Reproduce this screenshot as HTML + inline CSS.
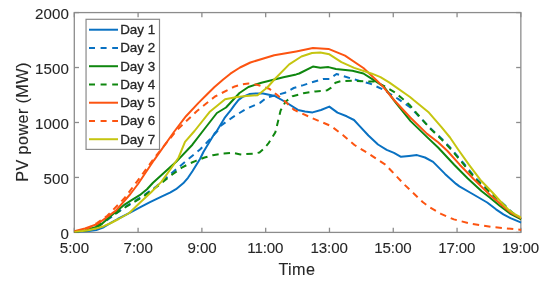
<!DOCTYPE html>
<html><head><meta charset="utf-8"><title>PV power</title>
<style>
html,body{margin:0;padding:0;background:#fff;}
svg{display:block;}
text{font-family:"Liberation Sans",Arial,Helvetica,sans-serif;fill:#262626;stroke:#262626;stroke-width:0.3px;}
.tk{font-size:15.1px;letter-spacing:0.16px;stroke-width:0.1px;}
.lb{font-size:16.2px;letter-spacing:0.4px;stroke-width:0.1px;}
.lg{font-size:13.4px;}
</style></head><body>
<svg width="550" height="289" viewBox="0 0 550 289">
<rect x="0" y="0" width="550" height="289" fill="#ffffff"/>

<defs><clipPath id="cp"><rect x="74.3" y="12.58" width="447.05" height="219.92"/></clipPath></defs>
<g stroke="#8c8c8c" stroke-width="1.3" fill="none">
<rect x="74.3" y="12.58" width="446.55" height="219.82"/>
<line x1="74.30" y1="232.4" x2="74.30" y2="227.7"/>
<line x1="74.30" y1="12.58" x2="74.30" y2="17.28"/>
<line x1="138.09" y1="232.4" x2="138.09" y2="227.7"/>
<line x1="138.09" y1="12.58" x2="138.09" y2="17.28"/>
<line x1="201.89" y1="232.4" x2="201.89" y2="227.7"/>
<line x1="201.89" y1="12.58" x2="201.89" y2="17.28"/>
<line x1="265.68" y1="232.4" x2="265.68" y2="227.7"/>
<line x1="265.68" y1="12.58" x2="265.68" y2="17.28"/>
<line x1="329.47" y1="232.4" x2="329.47" y2="227.7"/>
<line x1="329.47" y1="12.58" x2="329.47" y2="17.28"/>
<line x1="393.26" y1="232.4" x2="393.26" y2="227.7"/>
<line x1="393.26" y1="12.58" x2="393.26" y2="17.28"/>
<line x1="457.06" y1="232.4" x2="457.06" y2="227.7"/>
<line x1="457.06" y1="12.58" x2="457.06" y2="17.28"/>
<line x1="520.85" y1="232.4" x2="520.85" y2="227.7"/>
<line x1="520.85" y1="12.58" x2="520.85" y2="17.28"/>
<line x1="74.3" y1="232.40" x2="79" y2="232.40"/>
<line x1="520.85" y1="232.40" x2="516.15" y2="232.40"/>
<line x1="74.3" y1="177.44" x2="79" y2="177.44"/>
<line x1="520.85" y1="177.44" x2="516.15" y2="177.44"/>
<line x1="74.3" y1="122.49" x2="79" y2="122.49"/>
<line x1="520.85" y1="122.49" x2="516.15" y2="122.49"/>
<line x1="74.3" y1="67.53" x2="79" y2="67.53"/>
<line x1="520.85" y1="67.53" x2="516.15" y2="67.53"/>
<line x1="74.3" y1="12.58" x2="79" y2="12.58"/>
<line x1="520.85" y1="12.58" x2="516.15" y2="12.58"/>
</g>
<g clip-path="url(#cp)" fill="none" stroke-width="2" stroke-linejoin="round">
<polyline points="74.3,232 85,231.4 96.3,230 103.7,227.2 111.2,222.6 117.7,219 130.6,212.3 140.4,207.1 150,202.2 162.5,196.2 170,192.6 176,189.2 183.2,183.3 188,177.8 192.4,171.2 200,159 203.4,152 214.7,133.3 216.5,131.5 224.6,117.9 231,109.8 234.6,104.9 238.6,99.9 242.2,97.1 249.3,94.1 256,93.4 263,93.5 275,96.1 285.5,102 297.9,109.9 305,111.5 312.6,112.4 321,110 329.3,106.6 337.5,112.6 346.7,116.3 354,120 359.2,125.7 368.4,135.5 378,144.5 386.7,149.8 394,152.8 401,156.8 409,156 417,155.1 425,157.5 433.1,161.9 445,173.9 456.1,183.9 459.4,186.4 472.6,194 487.2,202.5 496,209.3 503.4,214.3 510.5,218.1 521.3,222.6" stroke="#0971C2"/>
<polyline points="74.3,232 90,229.5 100,225 110,218 125,207 143,196 156.2,186.6 163,180.5 185,161.9 200,149.5 203.4,146 210.7,138.5 218.3,130 220.5,125.9 233.2,116.9 246.2,108.9 260,102.9 266.7,97.6 285,92.8 293.7,88 303.4,85.1 311.8,82.3 323,79 329.4,79 336.5,74 345.5,76.8 359.7,80.9 370.7,83.8 383,89.5 398.1,98.9 410,107.1 416.1,113.4 430.7,128.5 441.7,138.7 450,147.3 463.4,163 476.2,178.6 490,191.7 505,205.6 512,212.4 521.3,218.8" stroke="#0971C2" stroke-dasharray="6.4 5.02" stroke-dashoffset="10.7"/>
<polyline points="74.3,232 85,230.5 99.4,225.9 112,215 125,204.3 132.4,199.6 139.7,195.2 147,189.3 153,182.8 175.9,162.1 192.4,144.7 202.5,131.5 216.9,113 226,107.5 239.5,93 248.4,87 261.4,82.7 283.4,77.2 296.2,74.4 299.2,73.5 312.9,66.6 320.3,67.7 328.5,67.1 335.9,69 352.4,70.8 363.4,73.5 370.7,78.1 383.6,86.4 395.9,102.8 410.6,121.1 427.1,137.1 438.1,147.5 454.2,164.7 467.8,178.5 481.7,191.3 490,197.7 499.7,205.7 510,213.5 521.3,219.4" stroke="#0F870F"/>
<polyline points="74.3,232 88,230 97,226 106.7,219.4 125,207.5 143.4,196.5 156.2,187.3 165.3,179.9 171.9,174.8 182.3,167.3 189.7,163.5 196.4,160.6 204.6,157.5 212.8,155.2 223.9,153.6 233,152.8 240.4,154.4 253.2,153.8 259.5,152.5 263.7,148.8 268.2,143.7 275.3,132.4 278.3,120.2 280.6,110.5 285.5,101.8 292.5,96.2 303.4,93.3 315.5,91.4 321.7,90.9 327,90.3 331.2,87.7 335.5,82.7 340.5,81.3 352,80.8 374.3,81.6 383.8,85.8 394.4,92.2 402,98.3 410,105.3 416.1,112.6 430.7,129.1 441.7,139.6 450,148.3 463.4,164.2 476.2,179.8 490,192.5 505,205.8 512,212.7 521.3,219" stroke="#0F870F" stroke-dasharray="6.41 5.03" stroke-dashoffset="0.4"/>
<polyline points="74.3,231.3 85,228.5 97.5,224 115.9,210.6 130.4,194 138,184 153.9,160.3 174.3,131.5 186,116.2 198.5,102.9 206.4,95 214.5,87 223.2,79.5 230.4,73.7 240,67.5 250.4,62.5 274.2,55.2 296.2,51.4 301,50.5 312.9,48 328.5,48.9 345,55.7 363.4,68 376.2,80 383.6,87.3 394,100 410.3,117.5 427.1,133.9 438.1,142.2 447.5,151 459.7,164.7 473.3,178.8 490.3,195.3 503.4,206.5 511,212.8 521.3,218.4" stroke="#FC5411"/>
<polyline points="74.3,232 88,228.5 97,223 107.3,215.8 124.4,198.3 136.8,181.8 155,157 176.5,130.5 196.7,111.2 215,96.5 233.9,86.8 241,84.6 248.5,83.5 257.1,84.8 269.3,88.8 277,94.9 284.8,101.2 294.2,109.9 312.2,118.1 331,126 342.8,135 354.5,145 368.5,153.5 385,164.4 392,171.5 404.7,184.9 423,202.3 430,207.5 441,213.9 453.9,219.4 472.2,224 490.6,226.8 521.3,229.9" stroke="#FC5411" stroke-dasharray="6.42 5.04" stroke-dashoffset="11.4"/>
<polyline points="74.3,232 88.3,230.2 96,228.6 103.7,226.2 111,223 118.6,219 129.3,213 140.4,202.3 151.4,192 161.5,181.6 173.5,165 178.6,157.5 185,141.9 194.5,131 209.5,112.1 225.1,99.3 237,96.9 246.5,96.1 257.6,95.2 267.3,87.5 274.8,79 289.2,64.4 301.4,56.5 312,53 320.3,52.4 329.4,54.3 341.4,62.2 354.2,67.9 372,73.7 380.5,77.2 389.5,82.6 410,97 414.2,100.6 428.9,112.6 441.7,127.4 450,137.5 458.5,150 468.9,164.7 480.2,179.7 492,192 503.3,204.5 508.1,209.3 514.2,213.8 521.3,217.7" stroke="#C5C510"/>
</g>
<text class="tk" style="letter-spacing:-0.04px" x="74.40" y="253.35" text-anchor="middle">5:00</text>
<text class="tk" style="letter-spacing:-0.04px" x="138.19" y="253.35" text-anchor="middle">7:00</text>
<text class="tk" style="letter-spacing:-0.04px" x="201.99" y="253.35" text-anchor="middle">9:00</text>
<text class="tk" style="letter-spacing:-0.14px" x="265.33" y="253.35" text-anchor="middle">11:00</text>
<text class="tk" style="letter-spacing:-0.14px" x="329.12" y="253.35" text-anchor="middle">13:00</text>
<text class="tk" style="letter-spacing:-0.14px" x="392.91" y="253.35" text-anchor="middle">15:00</text>
<text class="tk" style="letter-spacing:-0.14px" x="456.71" y="253.35" text-anchor="middle">17:00</text>
<text class="tk" style="letter-spacing:-0.14px" x="520.50" y="253.35" text-anchor="middle">19:00</text>
<text class="tk" x="69.1" y="238.50" text-anchor="end">0</text>
<text class="tk" x="69.1" y="183.54" text-anchor="end">500</text>
<text class="tk" x="69.1" y="128.59" text-anchor="end">1000</text>
<text class="tk" x="69.1" y="73.63" text-anchor="end">1500</text>
<text class="tk" x="69.1" y="18.68" text-anchor="end">2000</text>
<text class="lb" x="296.9" y="274.8" text-anchor="middle">Time</text>
<text class="lb" transform="translate(27.6,122.0) rotate(-90)" text-anchor="middle">PV power (MW)</text>
<rect x="86.05" y="19.3" width="73.45" height="130.1" fill="#ffffff" stroke="#8a8a8a" stroke-width="1.2"/>
<line x1="89" y1="29.72" x2="118" y2="29.72" stroke="#0971C2" stroke-width="2"/>
<text class="lg" x="120.2" y="34.05">Day 1</text>
<line x1="89" y1="47.97" x2="118" y2="47.97" stroke="#0971C2" stroke-width="2" stroke-dasharray="6 5.6"/>
<text class="lg" x="120.2" y="52.30">Day 2</text>
<line x1="89" y1="66.22" x2="118" y2="66.22" stroke="#0F870F" stroke-width="2"/>
<text class="lg" x="120.2" y="70.55">Day 3</text>
<line x1="89" y1="84.47" x2="118" y2="84.47" stroke="#0F870F" stroke-width="2" stroke-dasharray="6 5.6"/>
<text class="lg" x="120.2" y="88.80">Day 4</text>
<line x1="89" y1="102.72" x2="118" y2="102.72" stroke="#FC5411" stroke-width="2"/>
<text class="lg" x="120.2" y="107.05">Day 5</text>
<line x1="89" y1="120.97" x2="118" y2="120.97" stroke="#FC5411" stroke-width="2" stroke-dasharray="6 5.6"/>
<text class="lg" x="120.2" y="125.30">Day 6</text>
<line x1="89" y1="139.22" x2="118" y2="139.22" stroke="#C5C510" stroke-width="2"/>
<text class="lg" x="120.2" y="143.55">Day 7</text>
</svg></body></html>
